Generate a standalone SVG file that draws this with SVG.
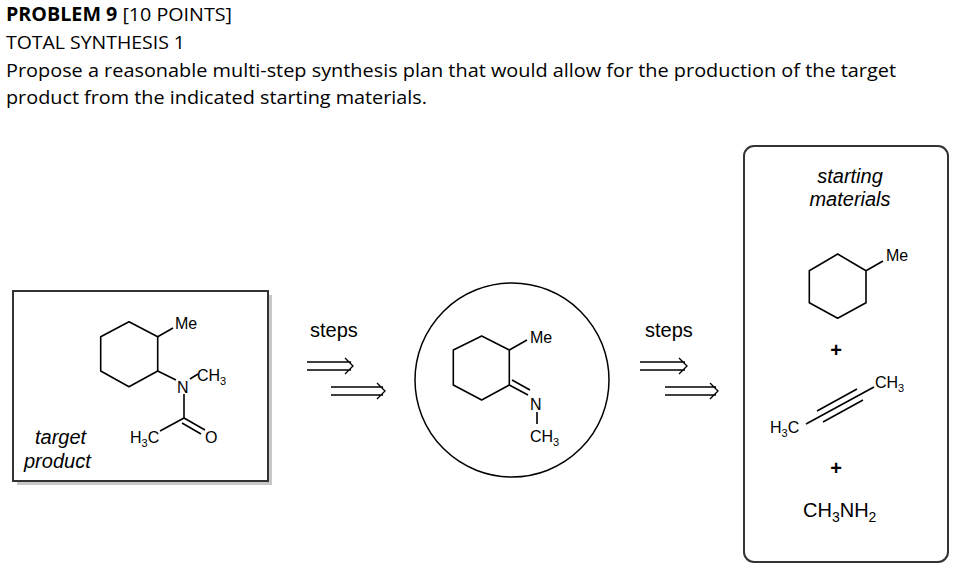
<svg xmlns="http://www.w3.org/2000/svg" width="954" height="568" viewBox="0 0 954 568">
<style>
.h{font-family:"Open Sans","Noto Sans",sans-serif;font-size:19px;fill:#000}
.c{font-family:"Liberation Sans",Arial,sans-serif;font-size:16px;fill:#000}
.s{font-size:11px}
.l{font-size:20px}
.ls{font-size:14px}
.i{font-family:"Liberation Sans",Arial,sans-serif;font-size:20px;font-style:italic;fill:#000}
.p{font-family:"Liberation Sans",Arial,sans-serif;font-size:20px;font-weight:bold;fill:#000}
.b{stroke:#000;stroke-width:1.6;fill:none;stroke-linejoin:round}
.a{stroke:#000;stroke-width:1.3;fill:none}
</style>
<rect width="954" height="568" fill="#fff"/>
<g id="header">
<text class="h" x="6" y="21" textLength="226" lengthAdjust="spacingAndGlyphs"><tspan font-weight="bold">PROBLEM 9</tspan> [10 POINTS]</text>
<text class="h" x="6" y="49" textLength="179" lengthAdjust="spacingAndGlyphs">TOTAL SYNTHESIS 1</text>
<text class="h" x="6" y="77" textLength="890" lengthAdjust="spacingAndGlyphs">Propose a reasonable multi-step synthesis plan that would allow for the production of the target</text>
<text class="h" x="6" y="104" textLength="421" lengthAdjust="spacingAndGlyphs">product from the indicated starting materials.</text>
</g>
<g id="target">
<rect x="17" y="295" width="255" height="190" fill="#c8c8c8"/>
<rect x="13" y="291" width="255" height="190" fill="#fff" stroke="#333" stroke-width="2"/>
<polygon class="b" points="100.7,336.7 129,321.7 157.7,336.7 157.7,371 129,386.7 100.7,371"/>
<path class="b" d="M157.7,336.7 L173,328 M157.7,371 L176,380 M190,379 L198,374 M184,394 L184,418 L160,431 M184,418 L205,430 M182,423 L201,434"/>
<text class="c" x="175" y="329">Me</text>
<text class="c" x="177" y="393">N</text>
<text class="c" x="197" y="381">CH<tspan class="s" dy="4">3</tspan></text>
<text class="c" x="130" y="443">H<tspan class="s" dy="4">3</tspan><tspan dy="-4">C</tspan></text>
<text class="c" x="205" y="443">O</text>
<text class="i" x="35" y="444">target</text>
<text class="i" x="24" y="468">product</text>
</g>
<g id="intermediate">
<circle cx="512" cy="380" r="97" fill="none" stroke="#000" stroke-width="1.5"/>
<polygon class="b" points="453.3,350 481.7,336 509.3,350 509.3,385 481.7,400 453.3,385"/>
<path class="b" d="M509.3,350 L527,340 M509.3,385 L528,395 M512,380 L530,390 M537,412 L537,424"/>
<text class="c" x="530" y="343">Me</text>
<text class="c" x="530" y="410">N</text>
<text class="c" x="530" y="442">CH<tspan class="s" dy="4">3</tspan></text>
</g>
<g id="start">
<rect x="744" y="146" width="204" height="416" rx="10" fill="#fff" stroke="#333" stroke-width="2"/>
<text class="i" x="850" y="183" text-anchor="middle">starting</text>
<text class="i" x="850" y="206" text-anchor="middle">materials</text>
<polygon class="b" points="809.3,270.7 837.7,254 866,270.7 866,302.7 837.7,318.3 809.3,302.7"/>
<path class="b" d="M866,270.7 L883,261"/>
<text class="c" x="886" y="261">Me</text>
<text class="p" x="836" y="357" text-anchor="middle">+</text>
<path class="b" d="M806,424 L874,387 M817,411 L857,389 M823,422 L863,400"/>
<text class="c" x="875" y="388">CH<tspan class="s" dy="4">3</tspan></text>
<text class="c" x="770" y="433">H<tspan class="s" dy="4">3</tspan><tspan dy="-4">C</tspan></text>
<text class="p" x="836" y="475" text-anchor="middle">+</text>
<text class="c l" x="803" y="517">CH<tspan class="ls" dy="5">3</tspan><tspan dy="-5">NH</tspan><tspan class="ls" dy="5">2</tspan></text>
</g>
<g id="connectors">
<text class="c l" x="310" y="337">steps</text>
<path class="a" d="M307,362 L351,362 M307,370 L351,370 M345,358 L353,366 L345,374"/>
<path class="a" d="M331,387 L383,387 M331,395 L383,395 M377,383 L385,391 L377,399"/>
<text class="c l" x="645" y="337">steps</text>
<path class="a" d="M640,362 L685,362 M640,370 L685,370 M679,358 L687,366 L679,374"/>
<path class="a" d="M665,387 L716,387 M665,395 L716,395 M710,383 L718,391 L710,399"/>
</g>
</svg>
